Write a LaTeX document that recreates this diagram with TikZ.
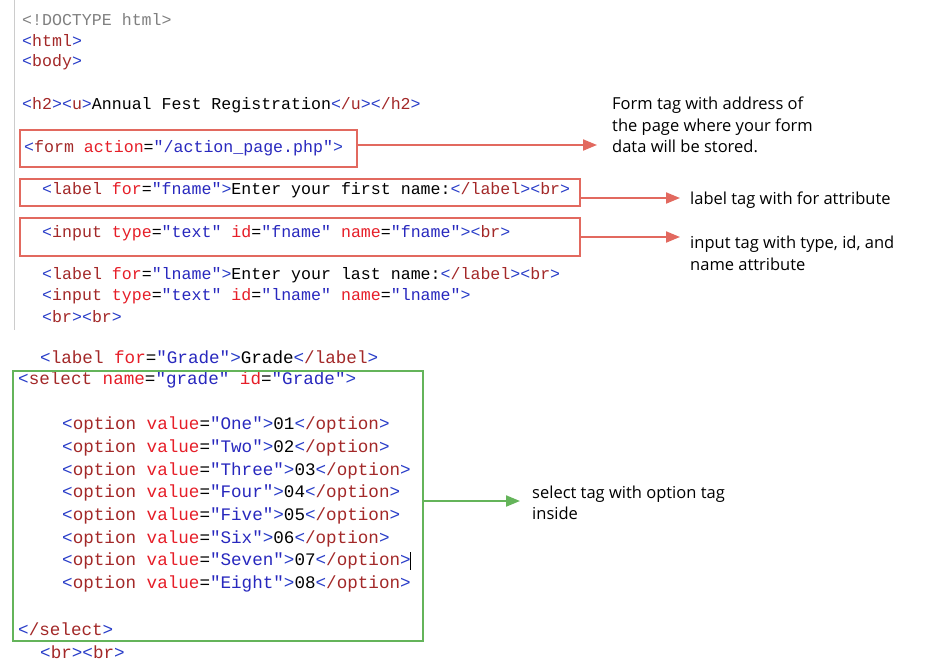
\documentclass[tikz,border=0pt]{standalone}
\usepackage{fontspec}
\setmonofont{Liberation Mono}
\setsansfont{Open Sans}
\usetikzlibrary{arrows.meta}
\definecolor{br}{RGB}{40,60,200}
\definecolor{tg}{RGB}{163,40,40}
\definecolor{at}{RGB}{230,30,40}
\definecolor{vl}{RGB}{40,40,190}
\definecolor{rb}{RGB}{226,105,95}
\definecolor{gb}{RGB}{100,180,90}
\newcommand\Lt{{\color{br}<}}
\newcommand\Gt{{\color{br}>}}
\newcommand\Tn[1]{\Lt{\color{tg}#1}\Gt}
\newcommand\Tc[1]{\Lt{\color{tg}/#1}\Gt}
\newcommand\At[2]{ {\color{at}#1}={\color{vl}"#2"}}
\begin{document}
\begin{tikzpicture}[x=1pt,y=-1pt,
  code/.style={anchor=west,inner sep=0pt,font=\ttfamily\fontsize{16.6}{16.6}\selectfont},
  bcode/.style={anchor=west,inner sep=0pt,font=\ttfamily\fontsize{17.6}{17.6}\selectfont},
  note/.style={anchor=west,align=left,inner sep=0pt,font=\sffamily\fontsize{16.5}{21.5}\selectfont},
  rbox/.style={draw=rb,line width=1.6pt,inner sep=0pt},
  gbox/.style={draw=gb,line width=2pt,inner sep=0pt},
  rarr/.style={rb,line width=2pt,-{Triangle[length=14pt,width=11pt]}},
  garr/.style={gb,line width=2pt,-{Triangle[length=14pt,width=11pt]}}]
\useasboundingbox (0,0) rectangle (929,665);
\fill[white] (0,0) rectangle (929,665);
\draw[gray!40,line width=1pt] (14,0) -- (14,330);
\node[code,text=gray] (l1) at (22,20) {<!DOCTYPE html>};
\node[code] (l2) at (22,41) {\Tn{html}};
\node[code] (l3) at (22,62) {\Tn{body}};
\node[code] (l4) at (22,105) {\Tn{h2}\Tn{u}Annual Fest Registration\Tc{u}\Tc{h2}};
\node[code] (l5) at (24,148) {\Lt{\color{tg}form}\At{action}{/action\_page.php}\Gt};
\node[code] (l6) at (42,190) {\Lt{\color{tg}label}\At{for}{fname}\Gt Enter your first name:\Tc{label}\Tn{br}};
\node[code] (l7) at (42,233) {\Lt{\color{tg}input}\At{type}{text}\At{id}{fname}\At{name}{fname}\Gt\Tn{br}};
\node[code] (l8) at (42,275) {\Lt{\color{tg}label}\At{for}{lname}\Gt Enter your last name:\Tc{label}\Tn{br}};
\node[code] (l9) at (42,296) {\Lt{\color{tg}input}\At{type}{text}\At{id}{lname}\At{name}{lname}\Gt};
\node[code] (l10) at (42,317) {\Tn{br}\Tn{br}};
\node[bcode] (m1) at (40,357) {\Lt{\color{tg}label}\At{for}{Grade}\Gt Grade\Tc{label}};
\node[bcode] (m2) at (18,380) {\Lt{\color{tg}select}\At{name}{grade}\At{id}{Grade}\Gt};
\foreach \v/\n/\y in {One/01/425,Two/02/448,Three/03/471,Four/04/493,Five/05/516,Six/06/539,Seven/07/561,Eight/08/584}
  \node[bcode] (o\n) at (62,\y) {\Lt{\color{tg}option}\At{value}{\v}\Gt\n\Tc{option}};
\draw[black,line width=0.8pt] (410,552) -- (410,570);
\node[bcode] (m3) at (18,629) {\Tc{select}};
\node[bcode] (m4) at (40,652) {\Tn{br}\Tn{br}};
\node[rbox,minimum width=337pt,minimum height=37pt] (b1) at (188.5,148.5) {};
\node[rbox,minimum width=560pt,minimum height=27pt] (b2) at (300,192.5) {};
\node[rbox,minimum width=560pt,minimum height=38pt] (b3) at (300,237) {};
\node[gbox,minimum width=410pt,minimum height=270pt] (g1) at (218,506) {};
\node[note] (n1) at (612,125) {Form tag with address of\\the page where your form\\data will be stored.};
\node[note] (n2) at (690,200) {label tag with for attribute};
\node[note] (n3) at (690,253.5) {input tag with type, id, and\\name attribute};
\node[note] (n4) at (532,503) {select tag with option tag\\inside};
\coordinate (e1) at (597,145);
\coordinate (e2) at (680,198);
\coordinate (e3) at (680,237);
\coordinate (e4) at (520,501);
\draw[rarr] (b1.east |- e1) -- (e1);
\draw[rarr] (b2.east |- e2) -- (e2);
\draw[rarr] (b3.east |- e3) -- (e3);
\draw[garr] (g1.east |- e4) -- (e4);
\end{tikzpicture}
\end{document}
